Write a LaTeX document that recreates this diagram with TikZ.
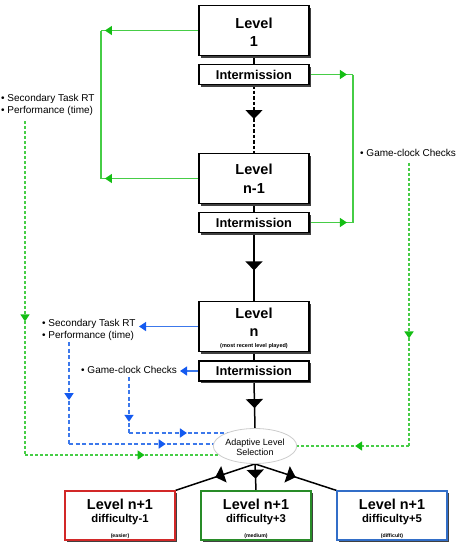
\documentclass[tikz,border=0pt]{standalone}
\usepackage{fontspec}
\setmainfont{Liberation Sans}
\usetikzlibrary{arrows.meta,decorations.markings,shapes.geometric,shadows}
\definecolor{gline}{RGB}{70,205,70}
\definecolor{garr}{RGB}{20,190,20}
\definecolor{bline}{RGB}{60,120,235}
\definecolor{barr}{RGB}{20,90,240}
\definecolor{bred}{RGB}{210,40,40}
\definecolor{bgreen}{RGB}{40,140,40}
\definecolor{bblue}{RGB}{50,110,200}
\pgfdeclarelayer{bg}
\pgfsetlayers{bg,main}
\tikzset{
  box/.style={draw=black, line width=1.2pt, fill=white, minimum width=110pt, inner sep=0pt, align=center,
    drop shadow={shadow xshift=2.2pt, shadow yshift=-2.2pt, fill=black!75, opacity=1}},
  lvl/.style={box, minimum height=50pt, font=\fontsize{14.5}{18.5}\selectfont\bfseries},
  inter/.style={box, minimum height=20pt, font=\fontsize{12.8}{14}\selectfont\bfseries},
  nextbox/.style={box, draw=#1, minimum height=49pt, font=\fontsize{11.3}{12.5}\selectfont\bfseries},
  side/.style={font=\fontsize{10}{12}\selectfont, align=left, inner sep=0pt, anchor=west},
  midarr/.style 2 args={postaction={decorate}, decoration={markings, mark=at position #1 with {\arrow{#2}}}},
  blk/.style={line width=1.5pt, black},
  gsol/.style={line width=1.3pt, gline},
  gdash/.style={line width=1.6pt, gline, dash pattern=on 3pt off 2pt},
  bsol/.style={line width=1.3pt, bline},
  bdash/.style={line width=1.6pt, bline, dash pattern=on 4pt off 2.5pt},
  bigtri/.tip={Triangle[length=9pt,width=17pt]},
  gtri/.tip={Triangle[length=7pt,width=9pt,color=garr]},
  btri/.tip={Triangle[length=7pt,width=9pt,color=barr]},
}
\begin{document}
\begin{tikzpicture}[x=1pt,y=-1pt]
\useasboundingbox (0,0) rectangle (474,560);

% main column
\node[lvl] (L1) at (254,30.5) {\rule{0pt}{14pt}Level\\1};
\node[inter] (I1) at (254,74.5) {Intermission};
\node[lvl] (Ln1) at (254,178.5) {Level\\n-1};
\node[inter] (I2) at (254,222.5) {Intermission};
\node[lvl] (Ln) at (254,326.5) {\rule{0pt}{14pt}Level\\n\\[-8pt]{\fontsize{5.5}{6}\selectfont (most recent level played)}};
\node[inter] (I3) at (254,371) {Intermission};
\node[ellipse, draw=gray!40, line width=0.8pt, fill=white, minimum width=76pt, minimum height=35pt, inner sep=0pt,
  align=center, font=\fontsize{9}{10.5}\selectfont] (ALS) at (255,446) {\rule{0pt}{9pt}Adaptive Level\\Selection};

% bottom boxes
\node[nextbox=bred] (B1) at (120,515.5) {\rule{0pt}{18pt}{\fontsize{14.4}{12.5}\selectfont Level n+1}\\difficulty-1\\[3pt]{\fontsize{5.2}{12.5}\selectfont (easier)}};
\node[nextbox=bgreen] (B2) at (256,515.5) {\rule{0pt}{18pt}{\fontsize{14.4}{12.5}\selectfont Level n+1}\\difficulty+3\\[3pt]{\fontsize{5.2}{12.5}\selectfont (medium)}};
\node[nextbox=bblue] (B3) at (392,515.5) {\rule{0pt}{18pt}{\fontsize{14.4}{12.5}\selectfont Level n+1}\\difficulty+5\\[3pt]{\fontsize{5.2}{12.5}\selectfont (difficult)}};

% side texts
\node[side] (sec1) at (1,105) {• Secondary Task RT\\• Performance (time)};
\node[side] (gc1) at (360,153) {• Game-clock Checks};
\node[side] (sec2) at (42,330) {• Secondary Task RT\\• Performance (time)};
\node[side] (gc2) at (81,370) {• Game-clock Checks};

% helper coordinates
\coordinate (gL1) at (101,30.5);
\coordinate (gL2) at (101,178.5);
\coordinate (gR1) at (353,74.5);
\coordinate (gR2) at (353,222.5);
\coordinate (gd1s) at (25,121);
\coordinate (gd1c) at (25,455);
\coordinate (gd2s) at (409,163);
\coordinate (gd2c) at (409,446);
\coordinate (bt1) at (139,326.5);
\coordinate (bt2) at (180,371);
\coordinate (bd1s) at (69,342);
\coordinate (bd1c) at (69,444);
\coordinate (bd2s) at (129,377);
\coordinate (bd2c) at (129,433);

\begin{pgfonlayer}{bg}
% black flow
\draw[blk] (L1.south) -- (I1.north);
\draw[blk, dash pattern=on 3.5pt off 2pt, midarr={0.5}{bigtri}] (I1.south) -- (Ln1.north);
\draw[blk] (Ln1.south) -- (I2.north);
\draw[blk, midarr={0.55}{bigtri}] (I2.south) -- (Ln.north);
\draw[blk] (Ln.south) -- (I3.north);
\draw[blk, midarr={0.57}{bigtri}] (I3.south) -- (ALS.north);
\draw[blk, midarr={0.5}{bigtri}] (ALS.south) -- (B1.north east);
\draw[blk, midarr={0.56}{bigtri}] (ALS.south) -- (B2.north);
\draw[blk, midarr={0.5}{bigtri}] (ALS.south) -- (B3.north west);

% green solid brackets
\draw[gsol, midarr={0.96}{gtri}] (L1.west) -- (gL1);
\draw[gsol] (gL1) -- (gL2);
\draw[gsol, midarr={0.96}{gtri}] (Ln1.west) -- (gL2);
\draw[gsol, midarr={0.86}{gtri}] (I1.east) -- (gR1);
\draw[gsol] (gR1) -- (gR2);
\draw[gsol, midarr={0.86}{gtri}] (I2.east) -- (gR2);

% green dashed feeds
\draw[gdash, midarr={0.6}{gtri}] (gd1s) -- (gd1c);
\draw[gdash, midarr={0.52}{gtri}] (gd1c) -- (gd1c -| ALS.center);
\draw[gdash, midarr={0.62}{gtri}] (gd2s) -- (gd2c);
\draw[gdash, midarr={0.35}{gtri}] (gd2c) -- (ALS.center);

% blue
\draw[bsol, -btri] (Ln.west) -- (bt1);
\draw[bsol, -btri] (I3.west) -- (bt2);
\draw[bdash, midarr={0.57}{btri}] (bd1s) -- (bd1c);
\draw[bdash, midarr={0.52}{btri}] (bd1c) -- (bd1c -| ALS.center);
\draw[bdash, midarr={0.8}{btri}] (bd2s) -- (bd2c);
\draw[bdash, midarr={0.46}{btri}] (bd2c) -- (bd2c -| ALS.center);
\end{pgfonlayer}
\end{tikzpicture}
\end{document}
